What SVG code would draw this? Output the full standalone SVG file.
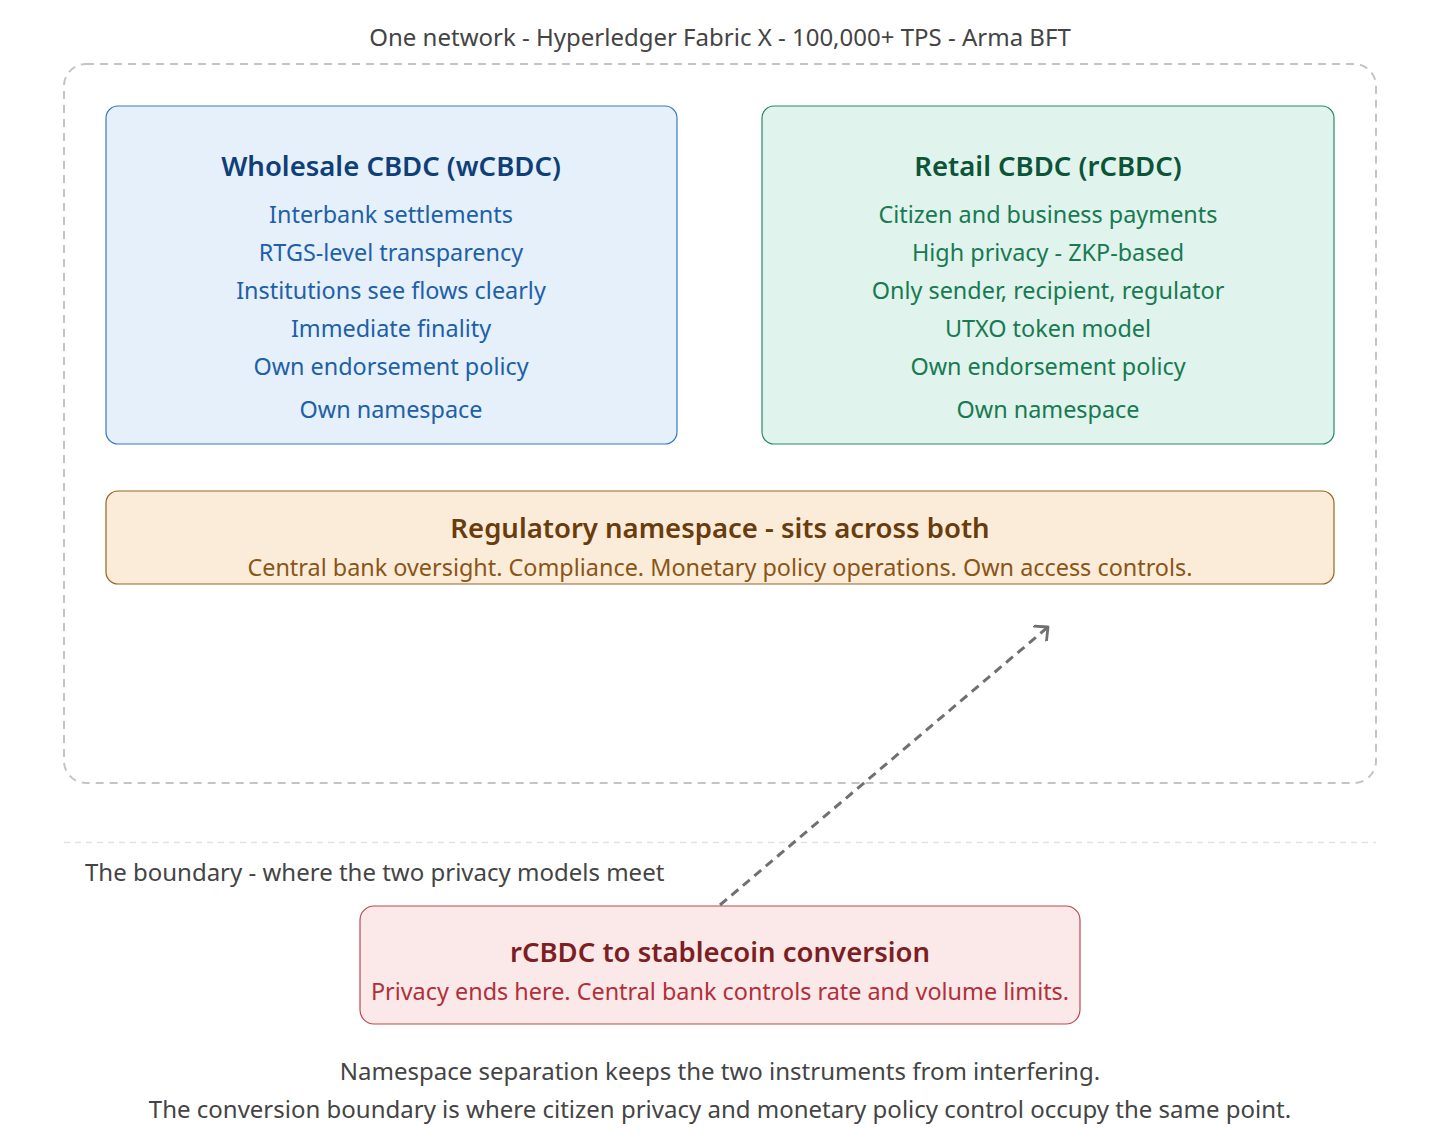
<svg xmlns="http://www.w3.org/2000/svg" width="1440" height="1144" viewBox="0 0 1440 1144">
<style>
text{font-family:"Noto Sans","Open Sans","Liberation Sans",sans-serif;text-anchor:middle}
.cap{font-size:24px;fill:#444}
.t{font-size:27.5px;font-weight:600}
.i{font-size:23.4px}
.wt{fill:#0f3f78}.wi{fill:#2060a8}
.rt{fill:#0b5438}.ri{fill:#187a52}
.gt{fill:#6a3c0c}.gi{fill:#8c5516}
.ct{fill:#7c1e22}.ci{fill:#b0303a}
</style>
<defs>
<marker id="ah" viewBox="0 0 20 20" refX="13" refY="10" markerWidth="20" markerHeight="20" markerUnits="userSpaceOnUse" orient="auto">
<path d="M3,0.5 L13,10 L3,19.5" fill="none" stroke="#707070" stroke-width="2.8" stroke-linecap="round" stroke-linejoin="round"/>
</marker>
</defs>
<rect width="1440" height="1144" fill="#fff"/>
<g id="network">
<text class="cap" x="720" y="46">One network - Hyperledger Fabric X - 100,000+ TPS - Arma BFT</text>
<rect x="64" y="64" width="1312" height="719" rx="22" fill="none" stroke="#c4c4c4" stroke-width="2" stroke-dasharray="8 6"/>
</g>
<g id="wcbdc">
<rect x="106" y="106" width="571" height="338" rx="12" fill="#e6f0fa" stroke="#3a78c0" stroke-width="1.2"/>
<text class="t wt" x="391" y="176">Wholesale CBDC (wCBDC)</text>
<text class="i wi" x="391" y="223">Interbank settlements</text>
<text class="i wi" x="391" y="261">RTGS-level transparency</text>
<text class="i wi" x="391" y="299">Institutions see flows clearly</text>
<text class="i wi" x="391" y="337">Immediate finality</text>
<text class="i wi" x="391" y="375">Own endorsement policy</text>
<text class="i wi" x="391" y="418">Own namespace</text>
</g>
<g id="rcbdc">
<rect x="762" y="106" width="572" height="338" rx="12" fill="#e0f3ec" stroke="#2a8a63" stroke-width="1.2"/>
<text class="t rt" x="1048" y="176">Retail CBDC (rCBDC)</text>
<text class="i ri" x="1048" y="223">Citizen and business payments</text>
<text class="i ri" x="1048" y="261">High privacy - ZKP-based</text>
<text class="i ri" x="1048" y="299">Only sender, recipient, regulator</text>
<text class="i ri" x="1048" y="337">UTXO token model</text>
<text class="i ri" x="1048" y="375">Own endorsement policy</text>
<text class="i ri" x="1048" y="418">Own namespace</text>
</g>
<g id="regulatory">
<rect x="106" y="491" width="1228" height="93" rx="12" fill="#faecd9" stroke="#9a6420" stroke-width="1.2"/>
<text class="t gt" x="720" y="538">Regulatory namespace - sits across both</text>
<text class="i gi" x="720" y="576">Central bank oversight. Compliance. Monetary policy operations. Own access controls.</text>
</g>
<g id="boundary">
<line x1="64" y1="842.5" x2="1376" y2="842.5" stroke="#e2e2e2" stroke-width="1.5" stroke-dasharray="6 5"/>
<text class="cap" x="85" y="881" style="text-anchor:start">The boundary - where the two privacy models meet</text>
</g>
<g id="conversion">
<rect x="360" y="906" width="720" height="118" rx="14" fill="#fbe9e9" stroke="#c0474d" stroke-width="1.2"/>
<text class="t ct" x="720" y="962">rCBDC to stablecoin conversion</text>
<text class="i ci" x="720" y="1000">Privacy ends here. Central bank controls rate and volume limits.</text>
</g>
<g id="connectors">
<line x1="720" y1="905" x2="1048" y2="627" stroke="#707070" stroke-width="3" stroke-dasharray="9 6" marker-end="url(#ah)"/>
</g>
<g id="footer">
<text class="cap" x="720" y="1080">Namespace separation keeps the two instruments from interfering.</text>
<text class="cap" x="720" y="1118">The conversion boundary is where citizen privacy and monetary policy control occupy the same point.</text>
</g>
</svg>
